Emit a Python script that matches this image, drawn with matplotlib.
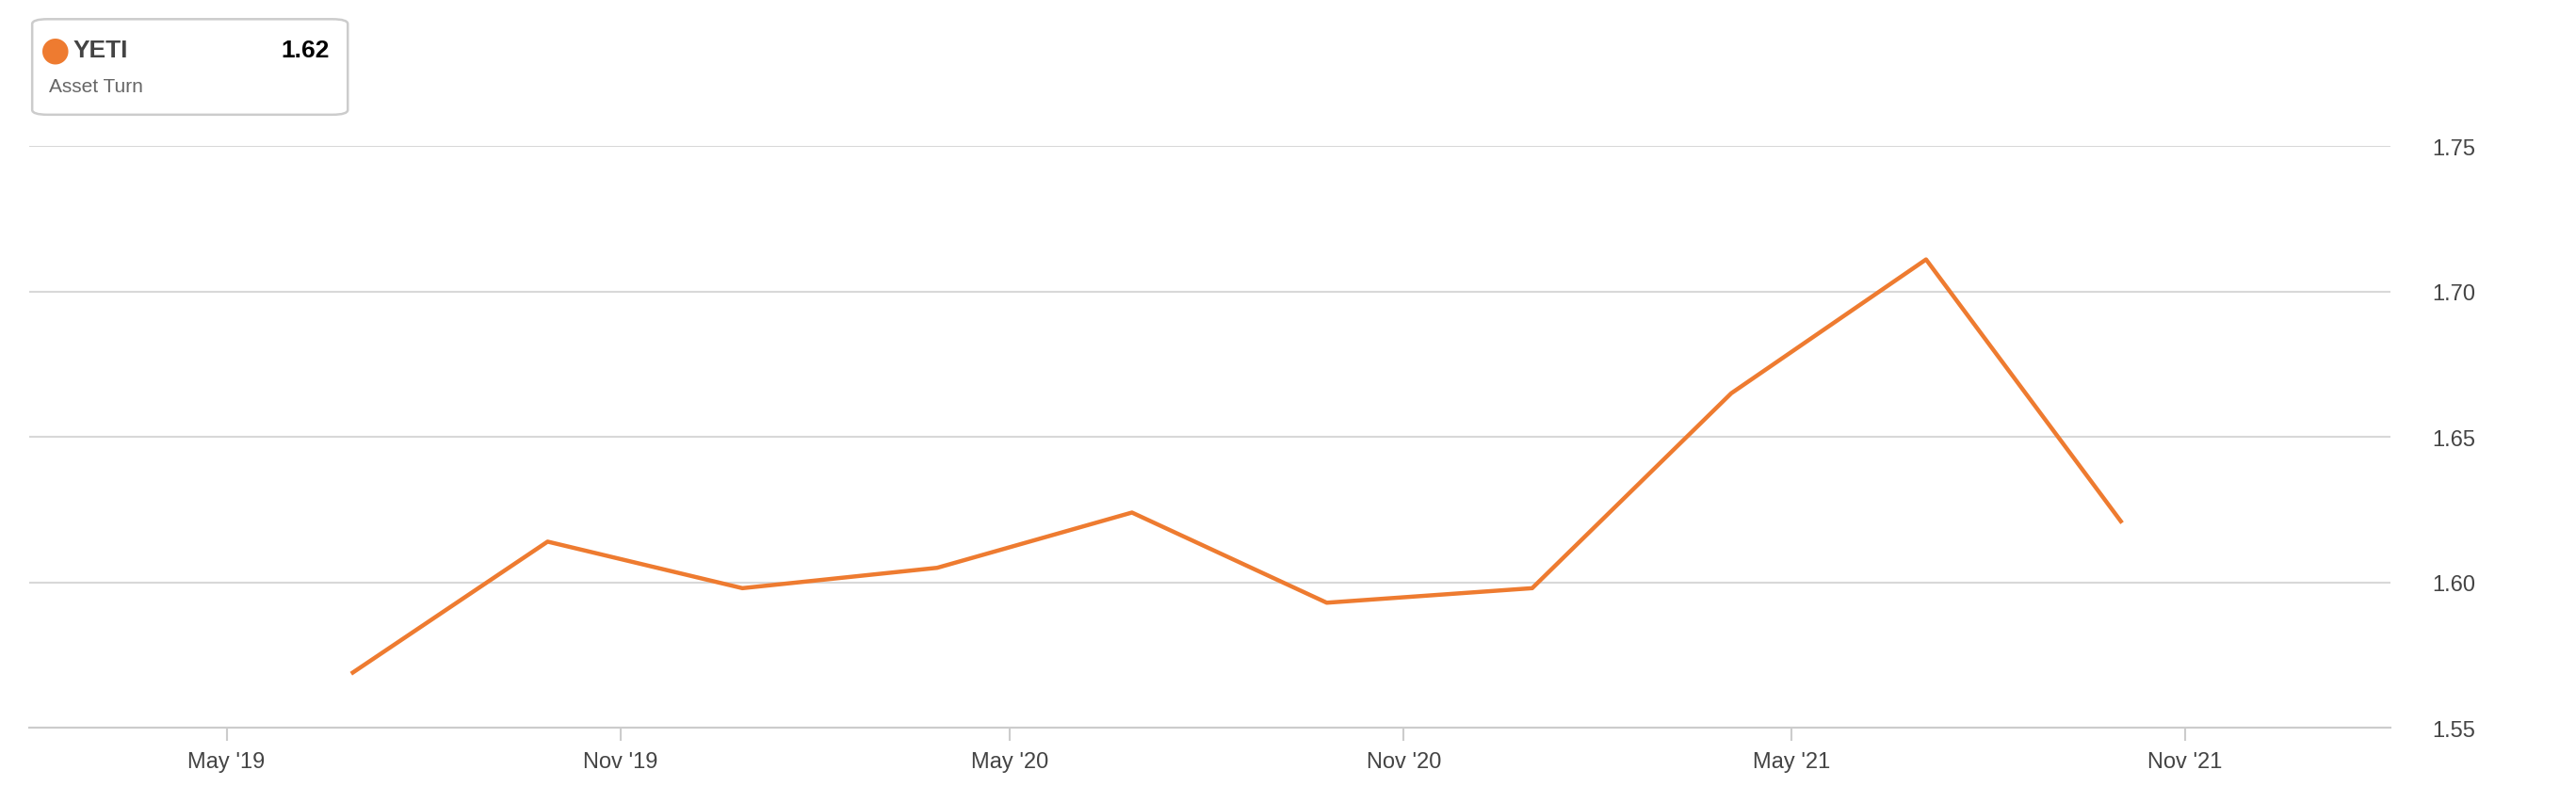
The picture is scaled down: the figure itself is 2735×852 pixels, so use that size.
import matplotlib
matplotlib.use('Agg')
import matplotlib.pyplot as plt
from matplotlib.patches import FancyBboxPatch
import pandas as pd

plt.rcParams['font.family'] = ['Liberation Sans', 'DejaVu Sans']

# quarterly asset turn values
dates = ['2019-06-29', '2019-09-28', '2019-12-28', '2020-03-28', '2020-06-27',
         '2020-09-26', '2020-12-31', '2021-04-03', '2021-07-03', '2021-10-02']
asset_turn = [1.569, 1.614, 1.598, 1.605, 1.624, 1.593, 1.598, 1.665, 1.711, 1.621]
tick_dates = ['2019-05-01', '2019-11-01', '2020-05-01', '2020-11-01', '2021-05-01', '2021-11-01']
tick_labels = ["May '19", "Nov '19", "May '20", "Nov '20", "May '21", "Nov '21"]
y_ticks = [1.55, 1.60, 1.65, 1.70, 1.75]

x = pd.to_datetime(dates)
orange = '#ee7b30'

fig = plt.figure(figsize=(27.35, 8.53), dpi=100)
ax = fig.add_axes([0.0115, 0.0924, 0.9165, 0.7246])

ax.plot(x, asset_turn, color=orange, linewidth=3.2)

ax.set_xlim(pd.Timestamp('2019-01-29'), pd.Timestamp('2022-02-05'))
ax.set_ylim(1.55, 1.75)
ax.set_xticks(pd.to_datetime(tick_dates))
ax.set_xticklabels(tick_labels)
ax.set_yticks(y_ticks)
ax.set_yticklabels([f'{v:.2f}' for v in y_ticks])
ax.yaxis.tick_right()

ax.yaxis.grid(True, color='#d8d8d8', linewidth=1.5)
ax.tick_params(axis='y', length=0, labelsize=17, colors='#444444', pad=32)
ax.tick_params(axis='x', length=10, width=1.5, color='#cccccc', labelsize=17,
               labelcolor='#444444', pad=8)
for s in ['top', 'left', 'right']:
    ax.spines[s].set_visible(False)
ax.spines['bottom'].set_color('#cccccc')
ax.spines['bottom'].set_linewidth(1.5)

# legend box
box = FancyBboxPatch((0.0125, 0.856), 0.1225, 0.119, boxstyle='round,pad=0,rounding_size=0.006',
                     transform=fig.transFigure, facecolor='white', edgecolor='#cccccc',
                     linewidth=1.8)
fig.patches.append(box)
fig.text(0.0215, 0.937, '\u25cf', color=orange, fontsize=26, va='center', ha='center',
         family='DejaVu Sans')
fig.text(0.0285, 0.937, 'YETI', fontsize=19, fontweight='bold', color='#444444', va='center')
fig.text(0.128, 0.937, '1.62', fontsize=19, fontweight='bold', color='black', va='center', ha='right')
fig.text(0.019, 0.892, 'Asset Turn', fontsize=15, color='#666666', va='center')

fig.savefig('out.png', dpi=100, facecolor='white')
